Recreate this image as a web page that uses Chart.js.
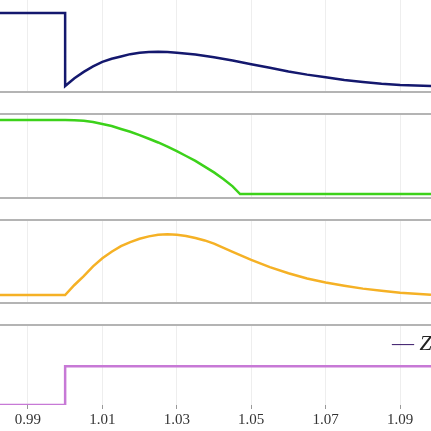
<!DOCTYPE html>
<html><head><meta charset="utf-8">
<script src="https://cdn.jsdelivr.net/npm/chart.js@4"></script>
<style>
body{margin:0;width:431px;height:431px;overflow:hidden;background:#fff;position:relative}
.panel{position:absolute;left:0;width:431px;border-top:2px solid #b4b4b4;box-sizing:border-box}
.leg{position:absolute;font:italic 22px "Liberation Serif",serif;color:#222;white-space:nowrap}
</style></head><body>
<div class="panel" style="top:0;height:93px;border-top:none;border-bottom:2px solid #b4b4b4"><canvas id="c1" width="431" height="91"></canvas></div>
<div class="panel" style="top:113px;height:86px;border-bottom:2px solid #b4b4b4"><canvas id="c2" width="431" height="82"></canvas></div>
<div class="panel" style="top:219px;height:85px;border-bottom:2px solid #b4b4b4"><canvas id="c3" width="431" height="81"></canvas></div>
<div class="panel" style="top:324px;height:107px"><canvas id="c4" width="431" height="105"></canvas></div>
<div class="leg" style="left:392px;top:330px"><span style="font-style:normal;color:#3a1a6a">—</span> Z</div>
<script>
// x positions (time) and values per panel, normalised 0..1 to each panel
var xMin = 0.9825, xMax = 1.0983;
var tickVals = [0.99, 1.01, 1.03, 1.05, 1.07, 1.09];

var x1 = [0.9825, 1.0, 1.0, 1.0025, 1.005, 1.0075, 1.01, 1.0125, 1.015, 1.0175, 1.02, 1.0225, 1.025, 1.0275, 1.03, 1.035, 1.04, 1.045, 1.05, 1.055, 1.06, 1.065, 1.07, 1.075, 1.08, 1.085, 1.09, 1.0983];
var y1 = [0.857, 0.857, 0.055, 0.14, 0.21, 0.27, 0.32, 0.355, 0.38, 0.405, 0.42, 0.428, 0.43, 0.428, 0.42, 0.40, 0.37, 0.335, 0.295, 0.255, 0.215, 0.18, 0.15, 0.12, 0.10, 0.08, 0.066, 0.055];

var x2 = [0.9825, 1.0, 1.0025, 1.005, 1.0075, 1.01, 1.0125, 1.015, 1.0175, 1.02, 1.0225, 1.025, 1.0275, 1.03, 1.0325, 1.035, 1.0375, 1.04, 1.0425, 1.045, 1.047, 1.0983];
var y2 = [0.94, 0.94, 0.937, 0.93, 0.915, 0.89, 0.865, 0.83, 0.795, 0.755, 0.71, 0.665, 0.615, 0.56, 0.50, 0.44, 0.37, 0.30, 0.22, 0.13, 0.036, 0.036];

var x3 = [0.9825, 1.0, 1.0025, 1.005, 1.0075, 1.01, 1.0125, 1.015, 1.0175, 1.02, 1.0225, 1.025, 1.0275, 1.03, 1.0325, 1.035, 1.0375, 1.04, 1.045, 1.05, 1.055, 1.06, 1.065, 1.07, 1.075, 1.08, 1.085, 1.09, 1.0983];
var y3 = [0.085, 0.085, 0.21, 0.32, 0.44, 0.54, 0.62, 0.69, 0.74, 0.78, 0.81, 0.83, 0.835, 0.83, 0.815, 0.79, 0.76, 0.72, 0.62, 0.52, 0.43, 0.355, 0.29, 0.24, 0.20, 0.165, 0.14, 0.115, 0.09];

var x4 = [0.9825, 1.0, 1.0, 1.0983];
var y4 = [0.0, 0.0, 0.49, 0.49];

function pts(xs, ys) { return xs.map(function (v, i) { return {x: v, y: ys[i]}; }); }

function makeChart(id, xs, ys, color, showTicks) {
  new Chart(document.getElementById(id), {
    type: 'line',
    data: {datasets: [{data: pts(xs, ys), borderColor: color, borderWidth: 2.5, pointRadius: 0, tension: 0, fill: false}]},
    options: {
      responsive: false, animation: false,
      layout: {padding: 0},
      plugins: {legend: {display: false}, tooltip: {enabled: false}},
      scales: {
        x: {
          type: 'linear', min: xMin, max: xMax,
          afterBuildTicks: function (ax) { ax.ticks = tickVals.map(function (v) { return {value: v}; }); },
          grid: {color: '#eeeeee', drawTicks: showTicks, tickLength: 4, tickColor: '#999'},
          border: {display: false},
          ticks: {display: showTicks, color: '#333', padding: 2, font: {family: 'Liberation Serif', size: 15},
                  callback: function (v) { return v.toFixed(2); }}
        },
        y: {display: false, min: 0, max: 1}
      }
    }
  });
}

makeChart('c1', x1, y1, '#14186e', false);
makeChart('c2', x2, y2, '#3cd21a', false);
makeChart('c3', x3, y3, '#f5b125', false);
makeChart('c4', x4, y4, '#c779d6', true);
</script>
</body></html>
